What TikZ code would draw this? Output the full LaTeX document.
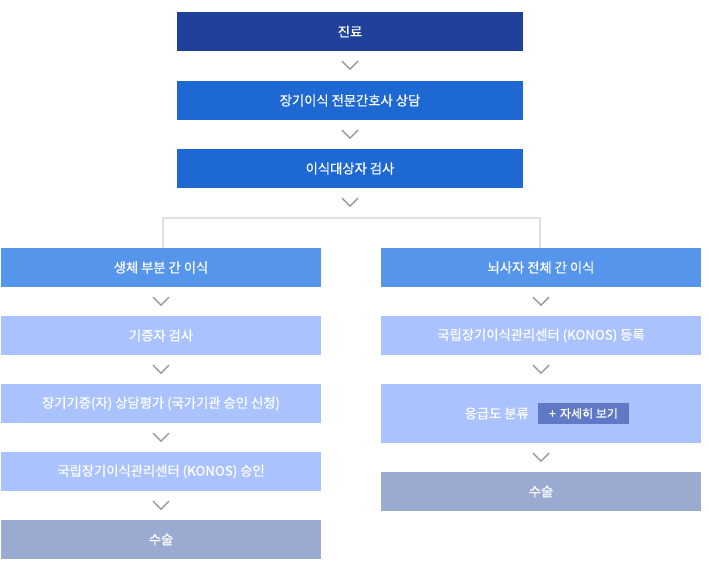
\documentclass[tikz,border=0pt]{standalone}
\usepackage{fontspec}
\setmainfont{Noto Sans CJK KR}[FakeBold=0.7,AutoFakeBold=0]
\newfontfamily\medfont{Noto Sans CJK KR}[FakeBold=0.7]
\usetikzlibrary{calc}
\definecolor{cDark}{HTML}{1F4199}
\definecolor{cMid}{HTML}{1E68D3}
\definecolor{cBranch}{HTML}{5595EC}
\definecolor{cLight}{HTML}{AAC2FD}
\definecolor{cSurg}{HTML}{9AAAD1}
\definecolor{cBtn}{HTML}{6079C4}
\definecolor{cChev}{HTML}{999999}
\definecolor{cLine}{HTML}{E1E1E1}
\begin{document}
\begin{tikzpicture}[x=1pt,y=-1pt,
  box/.style={rectangle,inner sep=0pt,minimum height=39pt,text=white,font=\medfont\fontsize{13.3}{15}\selectfont},
  topbox/.style={box,minimum width=346pt},
  colbox/.style={box,minimum width=320pt},
  chev/.style={draw=cChev,line width=1.4pt},
  bar/.style={draw=cLine,line width=2pt}
]
\useasboundingbox (0,0) rectangle (709,568);
% top column
\node[topbox,fill=cDark] (a) at (350,31.5) {진료};
\node[topbox,fill=cMid] (b) at (350,100.5) {장기이식 전문간호사 상담};
\node[topbox,fill=cMid] (c) at (350,168.5) {이식대상자 검사};
% left column
\node[colbox,fill=cBranch] (l1) at (161,267.5) {생체 부분 간 이식};
\node[colbox,fill=cLight] (l2) at (161,335.5) {기증자 검사};
\node[colbox,fill=cLight] (l3) at (161,403.5) {장기기증(자) 상담평가 (국가기관 승인 신청)};
\node[colbox,fill=cLight] (l4) at (161,471.5) {국립장기이식관리센터 (KONOS) 승인};
\node[colbox,fill=cSurg] (l5) at (161,539.5) {수술};
% right column
\node[colbox,fill=cBranch] (r1) at (541,267.5) {뇌사자 전체 간 이식};
\node[colbox,fill=cLight] (r2) at (541,335.5) {국립장기이식관리센터 (KONOS) 등록};
\node[colbox,fill=cLight,minimum height=59pt] (r3) at (541,413.5) {};
\node[box,minimum height=0pt,anchor=east] (r3t) at (529,413.5) {응급도 분류};
\node[box,fill=cBtn,minimum width=91pt,minimum height=21pt,font=\medfont\fontsize{12}{14}\selectfont] (btn) at (583.5,413.5) {+\hspace{0.35em}자세히 보기};
\node[colbox,fill=cSurg] (r4) at (541,491.5) {수술};
% branch connector
\coordinate (split) at (350,218);
\draw[bar] (l1.north -| 163,0) |- (split) -| (r1.north -| 540,0);
% chevrons
\foreach \p in {a,b,c,l1,l2,l3,l4,r1,r2,r3}{
  \draw[chev] ($(\p.south)+(-8,10)$) -- ++(8,8) -- ++(8,-8);
}
\end{tikzpicture}
\end{document}
